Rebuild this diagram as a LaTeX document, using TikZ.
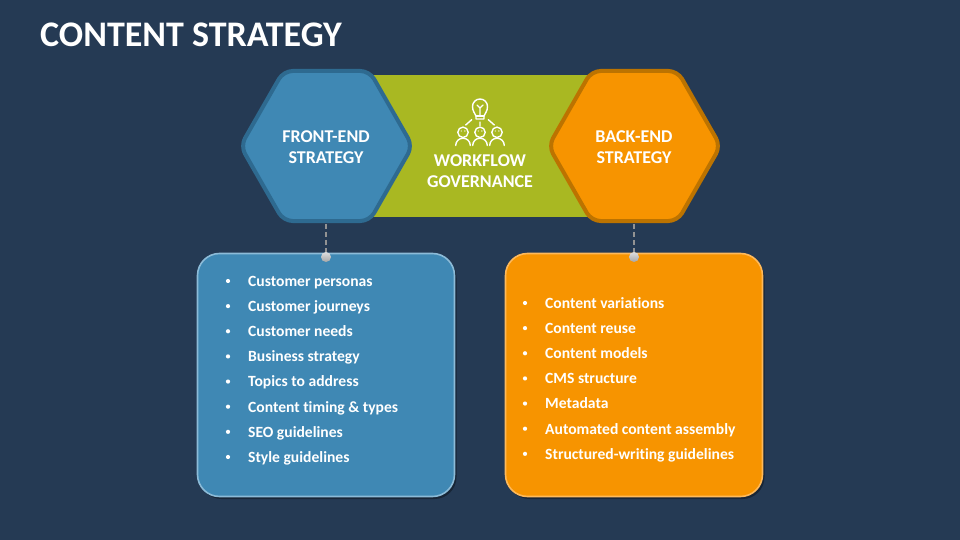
\documentclass[tikz,border=0pt]{standalone}
\usepackage{fontspec}
\setmainfont[Ligatures=NoCommon]{Carlito}
\usetikzlibrary{shadows}

\definecolor{slidebg}{HTML}{253A54}
\definecolor{leaf}{HTML}{A9B822}
\definecolor{sky}{HTML}{3F88B4}
\definecolor{skydark}{HTML}{2E6A90}
\definecolor{skylight}{HTML}{8CBBD8}
\definecolor{amber}{HTML}{F79400}
\definecolor{amberdark}{HTML}{BC7300}
\definecolor{amberlight}{HTML}{FFB95A}

% Шестиугольник: центр, заливка, контур
\newcommand{\hexa}[3]{
    \draw[line width=4pt, rounded corners=9pt, line join=round, fill=#2, draw=#3, shift={(#1)}]
    (-86,0) -- (-43,-75) -- (43,-75) -- (86,0) -- (43,75) -- (-43,75) -- cycle;
}

\begin{document}
\begin{tikzpicture}[
        x=1pt, y=-1pt,
        head/.style={align=center, text=white, font=\fontsize{18}{21}\selectfont\bfseries, inner sep=0pt},
        hexnode/.style={head, minimum width=170pt, minimum height=154pt}, % Узлы шестиугольников
        item/.style={anchor=base west, text=white, inner sep=0pt, font=\fontsize{15.6}{18}\selectfont\bfseries},
        dot/.style={circle, fill=white, inner sep=0pt, minimum size=4.2pt},
        panel/.style={draw, line width=1.6pt, rounded corners=22pt, minimum width=257pt, minimum height=243pt,
                general shadow={shadow xshift=2pt, shadow yshift=-2.5pt, fill=black, opacity=.35}},
        link/.style={draw=gray!85, line width=1.8pt, dash pattern=on 5pt off 3pt},
        knob/.style={circle, inner sep=0pt, minimum size=10pt, top color=gray!25, bottom color=gray!70},
        icon/.style={draw=white, line width=1.4pt, line cap=round, line join=round},
    ]

    \useasboundingbox[fill=slidebg] (0,0) rectangle (960,540);

    \node[anchor=west, text=white, inner sep=0pt, font=\fontsize{36}{40}\selectfont\bfseries] (title) at (40,35) {CONTENT STRATEGY};

    % Средняя полоса
    \fill[leaf] (340,75) rectangle (620,217);
    \hexa{326.5,146}{sky}{skydark}
    \hexa{634.5,146}{amber}{amberdark}

    \node[hexnode] (front) at (326,146.7) {FRONT-END\\STRATEGY};
    \node[hexnode] (back) at (634,146.7) {BACK-END\\STRATEGY};
    \node[head] (workflow) at (480,170.7) {WORKFLOW\\GOVERNANCE};

    % Значок
    \draw[icon] (476,119) -- (476,116) .. controls (475,113) and (472.5,111.5) .. (472.5,106.5) arc[start angle=180, end angle=360, radius=7.5] .. controls (487.5,111.5) and (485,113) .. (484,116) -- (484,119) -- cycle;
    \draw[icon] (476,116) -- (484,116);
    \draw[icon] (480,116) -- (480,108) (477,105) -- (480,108) -- (483,105);
    \draw[icon] (465.7,125) -- (471.7,119.7) (480,122) -- (480,125.7) (494.3,125) -- (488.3,119.7);
    \foreach \hx in {463,480,497} {
        \draw[icon] (\hx,132.3) circle[radius=5.2];
        \draw[icon] (\hx-7.3,145.5) arc[start angle=180, end angle=360, radius=7.3];
        \fill[white] (\hx-1.8,131) circle[radius=.7] (\hx+1.8,131) circle[radius=.7];
    }

    % Списки
    \node[panel, fill=sky, draw=skylight] (frontlist) at (326,375) {};
    \node[panel, fill=amber, draw=amberlight] (backlist) at (634,375) {};

    \foreach \txt [count=\i from 0] in {Customer personas, Customer journeys, Customer needs, Business strategy, Topics to address, Content timing \& types, SEO guidelines, Style guidelines} {
        \node[dot] (fd\i) at (228,{281+25.14*\i}) {};
        \node[item] (fi\i) at (248,{286.4+25.14*\i}) {\txt};
    }
    \foreach \txt [count=\i from 0] in {Content variations, Content reuse, Content models, CMS structure, Metadata, Automated content assembly, Structured-writing guidelines} {
        \node[dot] (bd\i) at (525,{303+25.14*\i}) {};
        \node[item] (bi\i) at (545,{308.4+25.14*\i}) {\txt};
    }

    % Соединения
    \node[knob] (frontknob) at (326,257) {};
    \node[knob] (backknob) at (634,257) {};
    \draw[link] (front.south) -- (frontknob);
    \draw[link] (back.south) -- (backknob);
\end{tikzpicture}
\end{document}
